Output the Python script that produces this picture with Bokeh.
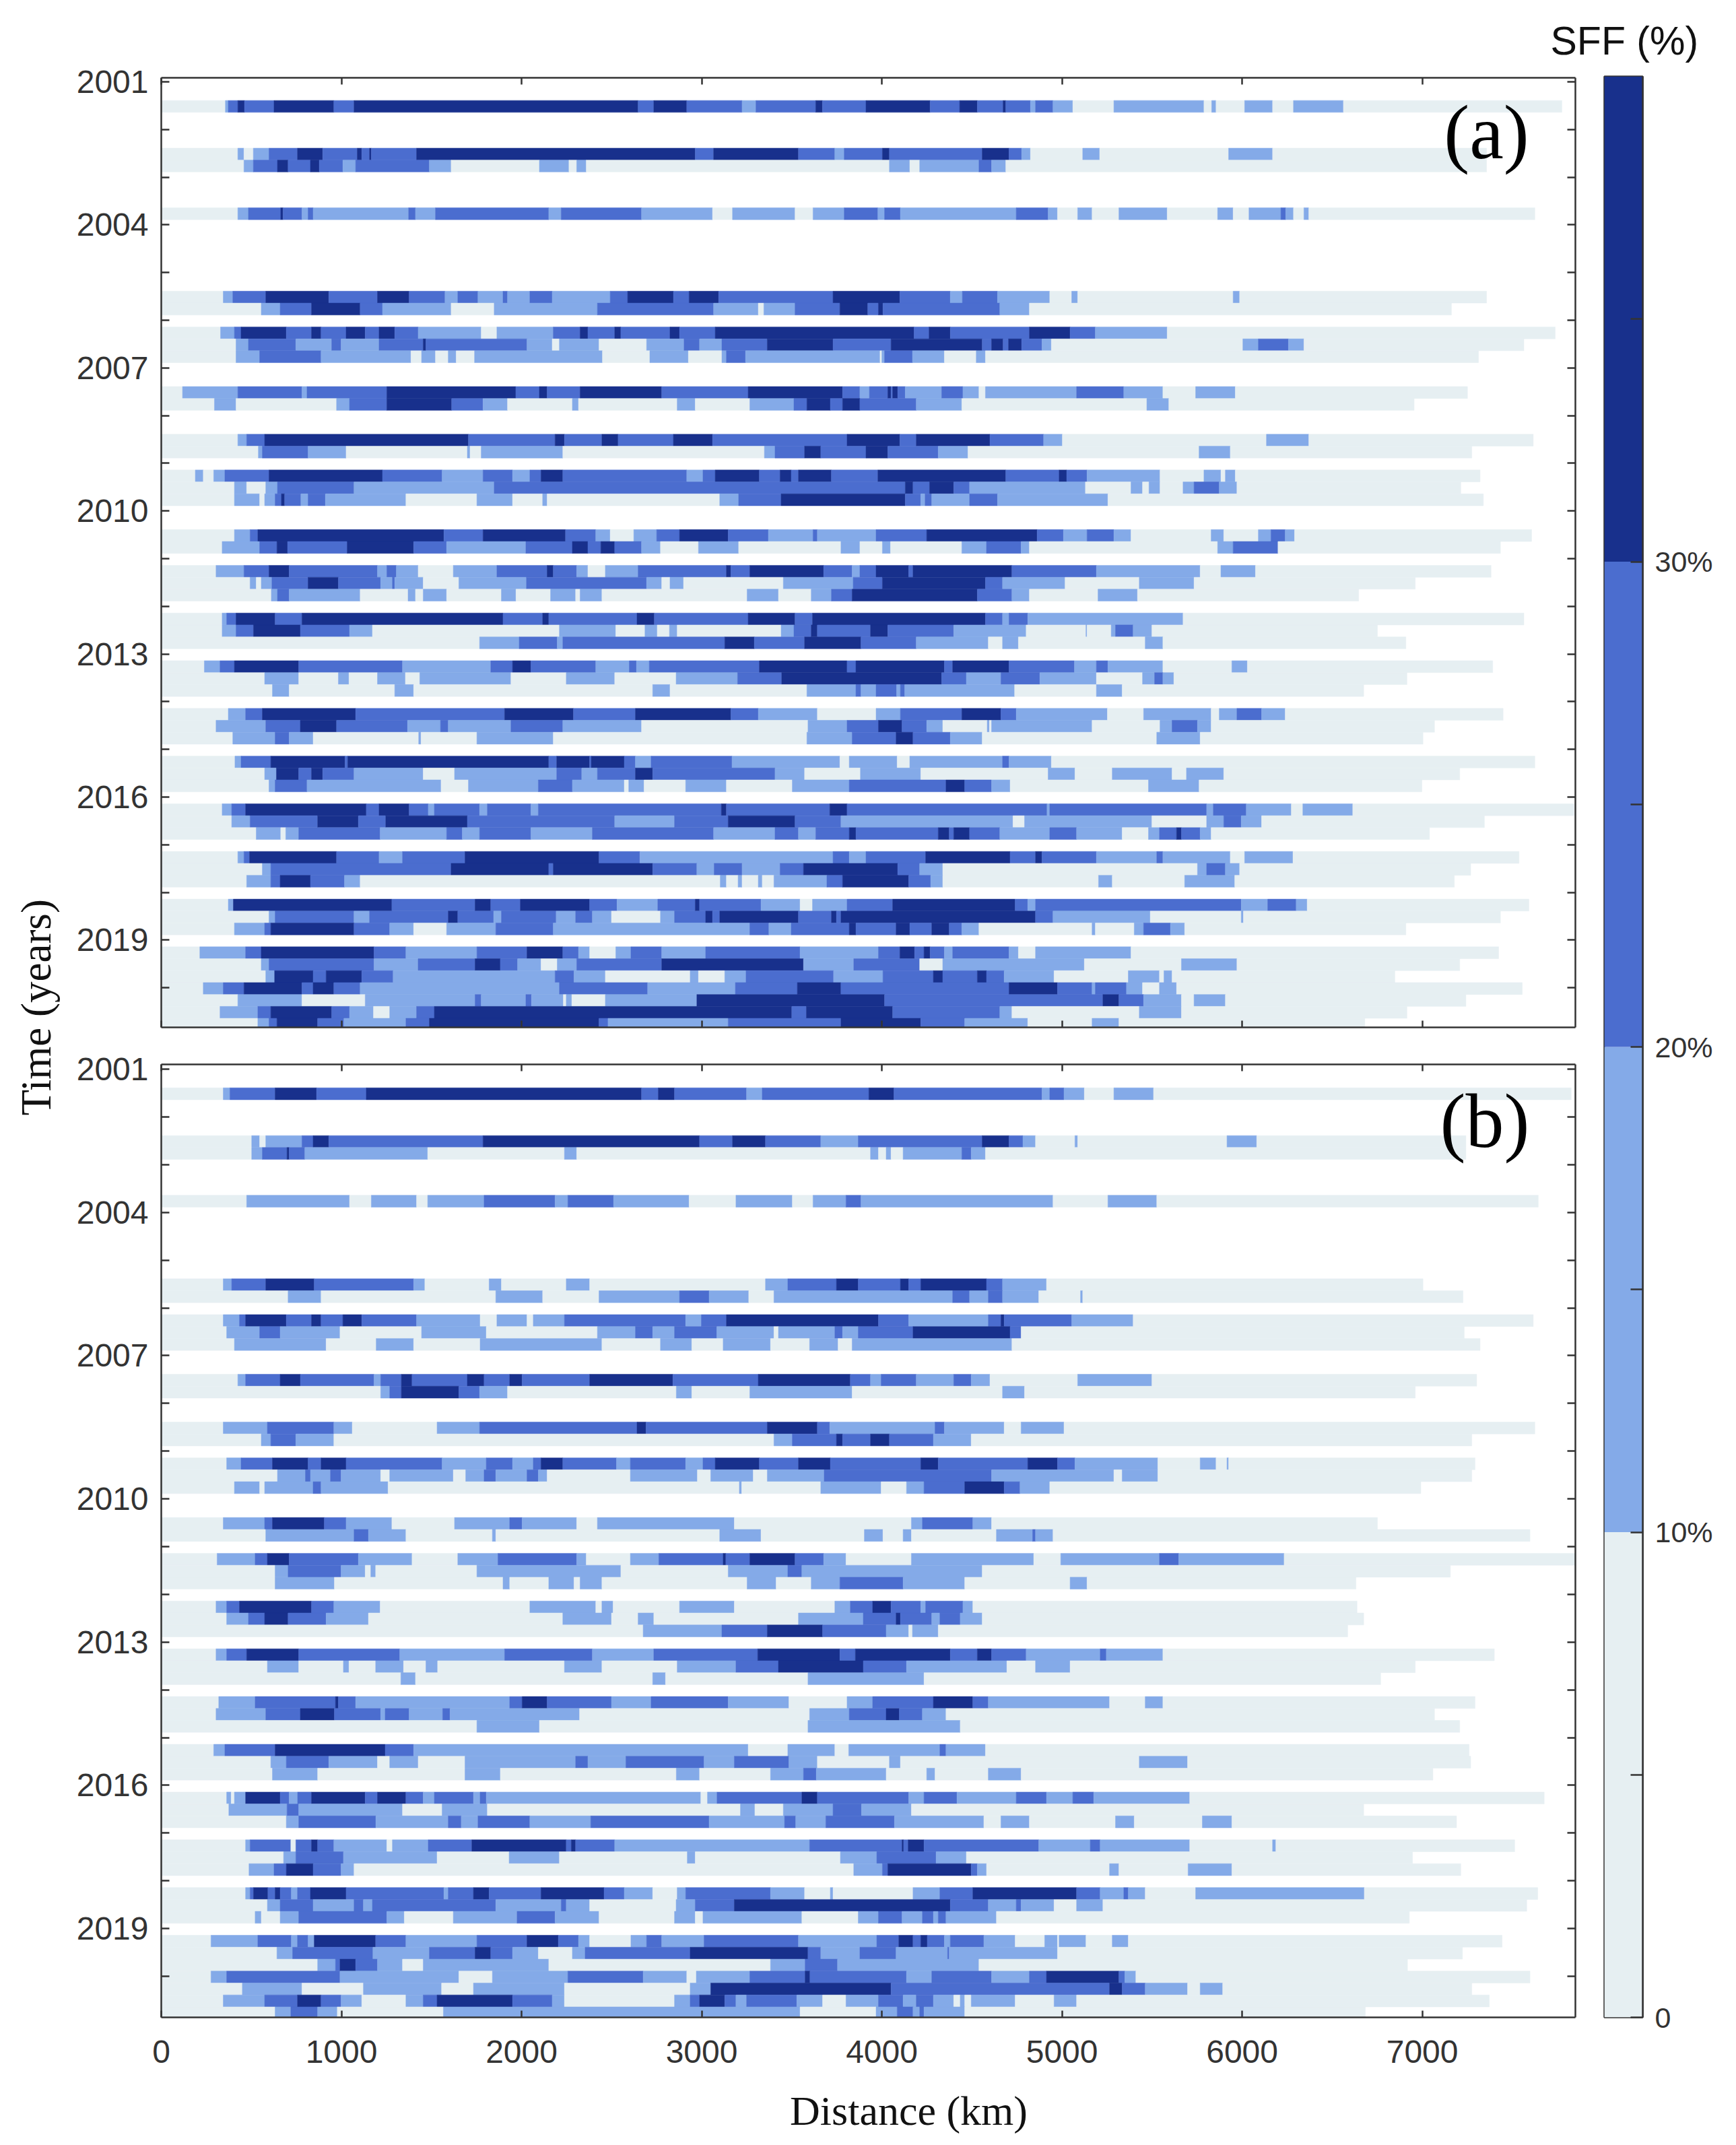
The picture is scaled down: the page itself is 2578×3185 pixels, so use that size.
from bokeh.embed import file_html
from bokeh.resources import INLINE
from bokeh.layouts import column, row
from bokeh.models import (ColumnDataSource, FixedTicker, Label, LinearAxis, LinearColorMapper, Range1d)
from bokeh.plotting import figure

# Rows are written as flat pairs: class (0:<10, 1:10-20, 2:20-30, 3:>30 % SFF), end distance km
row_k = [0, 4, 5, 9, 16, 17, 19, 20, 21, 24, 25, 28, 29, 31, 32, 33, 36, 37, 39, 40, 41, 43, 44, 45, 47, 48, 49,
         51, 52, 53, 55, 56, 57, 59, 60, 61, 63, 64, 65, 67, 68, 69, 71, 72, 73, 74, 75, 76, 77]
first_row_year = 2001.39
row_span_years = 0.25
class_sff = [5, 15, 25, 35]
year_ticks = list(range(2001, 2021))
year_labels = [2001, 2004, 2007, 2010, 2013, 2016, 2019]
dist_ticks = [0, 1000, 2000, 3000, 4000, 5000, 6000, 7000]
sff_ticks = [0, 5, 10, 15, 20, 25, 30, 35]
sff_labels = {0: "0", 10: "10%", 20: "20%", 30: "30%"}
palette = ["#e6eff2", "#84aae8", "#4b6dcf", "#18308c"]

a00 = [0,356,1,372,2,425,3,462,2,626,3,958,2,1070,3,2647,2,2734,3,2917,2,3224,1,3301,2,3633,3,3670,2,3912,3,4268,2,4432,3,4530,2,4673,3,4688,2,4825,1,4853,2,4950,1,5060,0,5288,1,5788,0,5831,1,5855,0,6014,1,6169,0,6285,1,6562,0,7775]
a04 = [0,425,1,459,0,511,1,598,2,756,3,896,2,1088,3,1113,2,1156,3,1166,2,1417,3,2964,2,3066,3,3537,2,3739,1,3791,2,4003,3,4042,2,4557,3,4706,2,4776,1,4825,0,5115,1,5209,0,5925,1,6169,0,7357]
a05 = [0,459,1,511,2,645,3,704,2,828,3,877,2,1008,1,1079,2,1488,1,1609,0,2099,1,2263,0,2306,1,2359,0,4042,1,4155,0,4210,1,4539,2,4609,1,4688,0,7357]
a09 = [0,425,1,484,2,663,3,676,2,781,1,815,2,843,1,1373,2,1411,1,1522,2,2151,1,2220,2,2666,1,3060,0,3171,1,3518,0,3618,1,3791,2,3978,1,4015,2,4103,1,4746,2,4923,1,4975,0,5087,1,5167,0,5316,1,5584,0,5864,1,5950,0,6038,1,6215,2,6242,1,6285,0,6343,1,6370,0,7625]
a16 = [0,344,1,397,2,580,3,930,2,1200,3,1376,2,1575,1,1646,2,1758,1,1897,2,1922,1,2046,2,2170,1,2492,2,2589,3,2843,2,2930,3,3094,2,3729,3,4100,2,4380,1,4447,2,4642,1,4932,0,5054,1,5087,0,5950,1,5986,0,7357]
a17 = [0,555,1,660,2,834,3,1104,2,1228,1,1609,0,1848,1,2421,2,3066,1,3314,0,3345,1,3518,2,3767,3,3922,2,3981,3,4006,2,4655,1,4819,0,7162]
a19 = [0,329,1,406,2,443,3,694,2,834,3,887,2,1026,3,1132,2,1209,3,1296,2,1426,1,1776,0,1863,1,2176,2,2325,3,2368,2,2517,3,2551,2,2824,3,2877,2,3075,3,4179,2,4262,3,4380,2,4819,3,5045,2,5185,1,5584,0,7738]
a20 = [0,415,1,484,2,747,1,946,2,998,1,1209,2,1454,3,1469,2,2030,1,2170,0,2210,1,2430,0,2694,1,2902,2,2988,1,3112,2,3364,3,3729,2,4051,3,4557,2,4609,3,4673,2,4703,3,4776,2,4889,1,4941,0,6004,1,6090,2,6257,1,6343,0,7564]
a21 = [0,415,1,546,2,887,1,1386,0,1445,1,1522,0,1593,1,1637,0,1739,1,2449,0,2712,1,2926,0,3112,1,3137,2,3243,1,3990,0,4000,1,4015,2,4170,1,4347,0,4524,1,4575,0,7312]
a24 = [0,118,1,425,2,781,1,809,2,1252,3,1968,2,2099,3,2142,2,2325,3,2778,2,3258,3,3782,2,3878,1,3931,2,4033,3,4051,2,4060,3,4088,2,4130,1,4332,2,4450,1,4539,0,4575,1,5081,2,5343,1,5560,0,5742,1,5962,0,7251]
a25 = [0,295,1,415,0,973,1,1045,2,1252,3,1612,2,1786,1,1922,0,2282,1,2316,0,2864,1,2964,0,3267,1,3512,2,3584,3,3714,2,3782,3,3878,2,4191,1,4444,0,5471,1,5593,0,6955]
a28 = [0,425,1,474,2,574,3,1705,2,2186,3,2238,2,2446,3,2536,2,2843,3,3060,2,3807,3,4100,2,4191,3,4600,2,4898,1,5002,0,6135,1,6370,0,7616]
a29 = [0,539,1,561,2,815,1,1026,0,1699,1,1714,0,1776,1,2229,0,3348,1,3407,2,3571,3,3661,2,3912,3,4033,2,4313,1,4478,0,5761,1,5934,0,7275]
a31 = [0,189,1,233,0,291,1,353,2,598,3,1228,2,1559,1,1786,2,1950,1,2046,2,2108,3,2229,2,2917,1,3007,2,3075,3,3320,2,3435,3,3497,2,3537,3,3720,2,3978,3,4688,2,4984,3,5026,2,5139,1,5544,0,5788,1,5882,0,5907,1,5962,0,7321]
a32 = [0,406,1,474,0,580,1,645,2,1070,1,1848,2,4130,3,4173,2,4265,3,4399,2,4487,1,5130,0,5383,1,5447,0,5483,1,5544,0,5672,1,5733,2,5873,1,5971,0,7214]
a33 = [0,406,1,546,0,574,1,632,2,667,3,685,2,775,1,815,2,911,1,1358,0,1752,1,1950,0,2117,1,2142,0,3100,1,3205,2,3441,3,4130,2,4216,1,4240,2,4277,1,4487,2,4642,1,5255,0,7339]
a36 = [0,406,1,493,2,536,3,1569,2,1786,3,2244,2,2412,1,2492,0,2623,1,2750,2,2877,3,3147,2,3370,1,3618,2,3642,1,3968,2,4249,3,4862,2,5008,1,5139,2,5288,1,5383,0,5828,1,5898,0,6090,1,6160,2,6239,1,6291,0,7607]
a37 = [0,338,1,546,2,642,3,701,2,1032,3,1401,2,1584,1,2024,2,2282,3,2368,2,2440,3,2517,2,2666,1,2771,0,2982,1,3205,0,3773,1,3878,0,4003,1,4048,0,4444,1,4581,2,4773,1,4819,0,5864,1,5950,2,6199,0,7434]
a39 = [0,304,1,459,2,598,3,710,2,1200,1,1252,2,1305,1,1426,0,1621,1,1863,2,2142,3,2176,2,2306,1,2368,0,2465,1,2647,2,3137,3,3162,2,3267,3,3677,2,3835,1,3878,2,3968,3,4149,2,4173,3,4722,2,5191,1,5767,0,5882,1,6074,0,7382]
a40 = [0,493,1,527,0,555,1,614,2,815,3,983,2,1218,1,1283,2,1296,1,1454,0,1652,1,2027,2,2694,1,2778,0,2824,1,2899,0,3453,1,3841,2,4003,3,4575,2,4670,1,5017,0,5429,1,5733,0,6961]
a41 = [0,611,1,645,2,710,1,1104,0,1370,1,1411,0,1454,1,1584,0,1888,1,1969,0,2161,1,2300,0,2325,1,2446,0,3252,1,3426,0,3608,1,3720,2,3835,3,4530,2,4722,1,4819,0,5200,1,5419,0,6647]
a43 = [0,338,1,363,2,415,3,632,2,781,3,1897,2,2117,3,2151,2,2641,3,2737,2,3258,3,3518,2,3615,3,4575,2,4670,1,4706,2,4810,1,5672,0,7564]
a44 = [0,338,1,415,2,512,3,772,2,1045,1,1172,0,2210,1,2523,0,2685,1,2753,0,2821,1,2864,0,3441,1,3512,2,3608,3,3642,2,3937,3,4033,2,4399,1,4801,0,5133,1,5139,0,5273,1,5297,2,5395,1,5499,0,6751]
a45 = [0,1767,1,1987,2,2198,1,2229,2,3128,3,3292,2,3571,3,3884,2,4191,1,4591,0,4670,1,4758,0,5462,1,5560,0,6909]
a47 = [0,239,1,326,2,406,3,763,2,1339,1,1829,2,1950,3,2052,2,2412,1,2598,2,2638,1,2709,2,3320,3,3807,2,3856,3,4347,2,4393,3,4706,2,5069,1,5191,2,5255,1,5560,0,5943,1,6029,0,7391]
a48 = [0,574,1,763,0,983,1,1042,0,1200,1,1355,0,1435,1,1941,0,2248,1,2517,0,2858,1,3199,2,3444,3,4332,2,4469,1,4661,2,4877,1,5191,0,5447,1,5514,2,5560,1,5621,0,6915]
a49 = [0,617,1,710,0,1296,1,1401,0,2728,1,2824,0,3584,1,3856,2,3884,1,3968,2,4082,1,4103,2,4127,1,4737,0,5191,1,5334,0,6675]
a51 = [0,372,1,468,2,561,3,1079,2,1906,3,2288,2,2632,3,3162,2,3314,1,3642,0,3968,1,4103,2,4444,3,4661,2,4746,1,5252,0,5453,1,5828,0,5873,1,5971,2,6108,1,6239,0,7449]
a52 = [0,304,1,580,2,772,3,973,2,1367,1,1550,2,1593,1,1941,2,2229,1,2666,0,3590,1,3807,2,3981,3,4112,2,4249,1,4338,0,4585,1,4597,0,4609,1,5167,0,5544,1,5611,2,5752,1,5828,0,7068]
a53 = [0,397,1,632,2,710,1,843,0,1429,1,1442,0,1752,1,2176,0,3584,1,3835,2,4079,3,4173,2,4380,1,4557,0,5526,1,5767,0,7004]
a55 = [0,409,1,443,2,608,3,1020,2,1035,3,2151,2,2195,3,2378,2,2387,3,2570,2,2632,1,2719,2,3168,1,3767,0,3819,1,4085,0,4155,1,4670,2,4706,1,4941,0,7625]
a56 = [0,574,1,639,3,763,2,834,3,896,2,1070,1,1454,0,1628,1,2195,2,2334,1,2421,2,2632,3,2728,2,3407,1,3571,0,3881,1,4216,0,4923,1,5072,0,5279,1,5611,0,5691,1,5898,0,7208]
a57 = [0,598,1,632,2,809,1,1553,0,1705,1,2093,2,2282,1,2570,0,2595,1,2680,0,2911,1,3137,0,3503,1,3819,2,4356,3,4460,2,4609,1,4712,0,5480,1,5761,0,6998]
a59 = [0,338,1,391,2,468,3,1138,2,1209,3,1376,2,1482,1,1516,2,1767,1,1810,2,2052,1,2093,2,3109,3,3137,2,3711,3,3807,2,4917,1,4932,2,5803,1,5840,2,6023,1,6273,0,6337,1,6614,0,7842]
a60 = [0,391,1,493,2,868,3,1094,2,1246,3,1699,2,2517,1,2849,2,3147,3,3518,2,3773,1,4728,0,4792,1,5499,0,5803,1,5898,2,5995,1,6108,0,7345]
a61 = [0,527,1,663,0,691,1,763,2,1215,1,1584,2,1671,1,1767,2,2052,1,2393,2,3066,1,3407,2,3537,1,3633,2,3819,3,3856,2,4313,3,4374,2,4399,3,4487,2,4655,1,4932,2,5081,1,5334,0,5480,1,5541,2,5636,3,5663,2,5767,1,5828,0,7040]
a63 = [0,425,1,459,2,490,3,973,2,1209,1,1339,2,1686,3,2430,2,2657,1,3729,2,3819,1,3912,2,4243,3,4712,2,4853,3,4889,2,5191,1,5526,2,5560,1,5934,0,6014,1,6282,0,7537]
a64 = [0,561,1,608,2,1609,3,2151,2,2176,3,2728,2,2973,1,3069,2,3224,1,3435,2,3565,3,4088,2,4210,1,4338,0,5752,1,5803,2,5907,1,5986,0,7269]
a65 = [0,474,1,608,2,660,3,828,2,1017,1,1104,0,3103,1,3137,0,3202,1,3224,0,3314,1,3336,0,3401,1,3695,2,3782,3,4149,2,4271,1,4338,0,5203,1,5279,0,5681,1,5959,0,7178]
a67 = [0,372,1,400,3,1280,2,1742,3,1829,2,1993,3,2378,2,2530,1,2756,2,2964,3,2988,2,3329,1,3546,0,3615,1,3807,2,4060,3,4740,2,4810,1,4853,2,5995,1,6142,2,6300,1,6361,0,7592]
a68 = [0,598,1,632,2,1070,1,1156,2,1593,3,1646,2,1845,1,1888,2,2192,1,2300,2,2393,1,2499,0,2771,1,2849,2,3022,3,3060,2,3100,3,3537,2,3720,3,3748,2,3773,3,4853,2,4950,1,5490,0,5995,1,6007,0,7434]
a69 = [0,406,1,574,2,608,3,1070,2,1268,1,1401,0,1584,1,1857,2,2176,1,3267,2,3373,1,3497,2,3819,3,3856,2,4079,3,4155,2,4277,3,4374,2,4444,1,4539,0,5167,1,5185,0,5401,1,5453,2,5602,1,5681,0,6909]
a71 = [0,214,1,468,2,555,3,1181,2,1358,1,1752,2,2030,3,2229,2,2316,1,2378,0,2523,1,2607,2,2778,1,3022,2,3546,1,3981,2,4100,3,4182,2,4234,3,4268,2,4347,1,4393,2,4706,1,4758,0,4853,1,5383,0,7424]
a72 = [0,555,1,598,2,1181,1,1426,2,1742,3,1882,2,1978,1,2108,0,2198,1,2306,2,2778,3,3565,1,3844,2,4210,0,4338,1,5124,0,5663,1,5971,0,7208]
a73 = [0,580,1,629,3,843,2,915,3,1113,2,1287,1,2186,2,2291,1,2465,0,2936,1,2982,0,3128,1,3246,2,3732,1,4006,2,4286,3,4338,2,4530,3,4581,2,4679,1,4956,0,5368,1,5541,0,5566,1,5611,0,6848]
a74 = [0,233,1,344,2,459,3,781,2,843,3,958,2,1104,1,2210,2,2700,1,3187,2,3531,3,3773,2,4706,3,4975,2,5167,1,5185,2,5358,1,5447,0,5541,1,5636,0,7555]
a75 = [0,425,1,781,0,1132,1,1742,2,1776,1,2024,2,2055,1,2232,0,2248,1,2279,0,2465,1,2973,3,4015,2,5227,3,5316,2,5453,1,5663,0,5733,1,5907,0,7242]
a76 = [0,326,1,536,2,608,3,946,2,1045,1,1178,0,1268,1,1417,2,1516,3,3500,2,3581,3,4060,2,4655,1,4722,0,5429,1,5663,0,6915]
a77 = [0,536,1,598,2,642,3,868,2,1014,1,1358,2,1488,3,2430,2,2480,1,3147,2,3773,3,4216,2,4460,1,4810,0,5167,1,5316,0,6681]

b00 = [0,344,1,381,2,632,3,862,2,1138,3,2666,2,2759,3,2849,2,3249,1,3336,2,3928,3,4067,2,4889,1,4932,2,5011,1,5124,0,5288,1,5508,0,7827]
b04 = [0,502,1,546,0,580,1,781,2,843,3,930,2,1786,3,2988,2,3171,3,3354,2,3661,1,3869,2,4557,3,4706,2,4783,1,4853,0,5072,1,5087,0,5916,1,6081,0,7242]
b05 = [0,502,1,561,2,698,3,710,2,797,1,1479,0,2238,1,2306,0,3937,1,3981,0,4024,1,4051,0,4118,1,4444,2,4496,1,4575,0,7242]
b09 = [0,474,1,1045,0,1166,1,1417,0,1479,1,1792,2,2186,1,2257,2,2511,1,2930,0,3190,1,3503,0,3618,1,3801,2,3884,1,4950,0,5255,1,5526,0,7644]
b16 = [0,344,1,391,2,580,3,849,2,1401,1,1463,0,1820,1,1888,0,2248,1,2378,0,3354,1,3478,2,3748,3,3869,2,4103,3,4149,2,4216,3,4581,2,4670,1,4914,0,7004]
b17 = [0,704,1,887,0,1857,1,2117,0,2430,1,2877,2,3041,1,3261,0,3401,1,4393,2,4487,1,4591,2,4670,1,4871,0,5103,1,5115,0,7226]
b19 = [0,344,1,434,2,468,3,694,2,834,3,887,2,1008,3,1113,2,1417,1,1770,0,1863,1,2030,0,2065,1,2238,2,2911,1,2998,2,3137,3,3981,2,4149,1,4591,2,4661,3,4679,2,5054,1,5395,0,7616]
b20 = [0,363,1,546,2,660,1,992,0,1445,1,1804,0,2421,1,2632,2,2728,1,2849,2,3084,1,3401,0,3426,1,3739,2,3782,1,3869,2,4173,3,4712,2,4773,0,7233]
b21 = [0,406,1,915,0,1193,1,1401,0,1770,1,2446,0,2771,1,2945,0,3119,1,3382,0,3599,1,3757,0,3835,1,4722,0,7321]
b24 = [0,425,1,468,2,660,3,772,2,1181,1,1218,2,1333,3,1392,2,1699,3,1792,2,1934,3,2003,2,2378,3,2840,2,3314,3,3825,2,3937,1,3996,2,4191,1,4399,2,4496,1,4600,0,5087,1,5499,0,7302]
b25 = [0,1218,1,1268,2,1333,3,1652,2,1767,1,1922,0,2859,1,2945,0,3267,1,3835,0,4670,1,4792,0,6961]
b28 = [0,344,1,589,2,958,1,1060,0,1531,1,1767,2,2641,3,2691,2,3364,3,3642,2,3711,1,4295,2,4347,1,4679,0,4773,1,5011,0,7625]
b29 = [0,555,1,608,2,747,1,958,0,3401,1,3503,2,3748,3,3782,2,3937,3,4042,2,4286,1,4496,0,7275]
b31 = [0,363,1,443,2,617,3,815,2,887,3,1026,2,1559,1,1804,2,1950,1,2065,2,2108,3,2229,2,2527,1,2604,2,2911,1,3007,2,3075,3,3320,2,3537,3,3714,2,4216,3,4313,2,4810,3,4975,2,5072,1,5532,0,5767,1,5855,0,5916,1,5925,0,7293]
b32 = [0,645,1,800,2,828,1,939,2,998,1,1218,0,1268,1,1621,0,1690,1,1792,2,1857,1,2030,2,2093,1,2142,0,2604,1,2976,0,3050,1,3286,0,3364,1,3680,2,4609,1,5288,0,5334,1,5532,0,7275]
b33 = [0,406,1,546,0,574,1,843,2,887,1,1259,0,3209,1,3222,0,3661,1,3996,0,4137,1,4234,2,4460,3,4679,2,4767,1,4932,0,6992]
b36 = [0,344,1,574,2,617,3,905,2,1026,1,1280,0,1628,1,1934,2,2003,1,2306,0,2421,1,3181,0,4164,1,4225,2,4505,1,4609,0,6751]
b37 = [0,580,1,1070,2,1150,1,1358,0,1838,1,1857,0,3100,1,3329,0,3903,1,4006,0,4118,1,4164,0,4636,1,4837,2,4853,1,4950,0,7598]
b39 = [0,310,1,521,2,589,3,710,2,1094,1,1392,0,1646,1,1869,2,2306,1,2359,0,2604,1,2762,2,3119,3,3134,2,3267,3,3518,2,3677,1,3801,0,4164,1,4843,0,4993,1,5541,2,5648,1,6233,0,7850]
b40 = [0,632,1,704,2,998,1,1132,0,1163,1,1190,0,1752,1,2551,0,3147,1,3478,2,3556,1,4557,0,7156]
b41 = [0,632,1,961,0,1897,1,1934,0,2151,1,2291,0,2325,1,2446,0,3252,1,3413,0,3608,1,3767,2,4118,1,4460,0,5045,1,5139,0,6632]
b43 = [0,304,1,363,2,434,3,834,2,958,1,1215,0,2046,1,2412,0,2446,1,2508,0,2877,1,3181,0,3739,1,3825,2,3949,3,4051,2,4216,1,4243,2,4450,1,4505,0,6638]
b44 = [0,363,1,484,2,574,3,704,2,915,1,1150,0,2229,1,2499,0,2647,1,2734,0,3537,1,3897,2,4079,3,4103,2,4277,1,4322,2,4435,1,4557,0,6675]
b45 = [0,2675,1,3112,2,3364,3,3671,2,4024,1,4149,0,4170,1,4313,0,6586]
b47 = [0,304,1,363,2,474,3,763,2,1324,1,1906,2,2393,1,2734,2,3311,3,3767,2,3853,3,4380,2,4530,3,4609,2,4801,1,5212,2,5246,1,5560,0,7400]
b48 = [0,589,1,763,0,1011,1,1042,0,1190,1,1345,0,1469,1,1534,0,2238,1,2446,0,2864,1,3190,2,3426,3,3897,2,4137,1,4694,0,4853,1,5045,0,6961]
b49 = [0,1330,1,1411,0,2728,1,2799,0,3590,1,4234,0,6769]
b51 = [0,319,1,521,2,967,3,983,2,1079,1,1934,2,2003,3,2142,2,2499,1,2719,2,3147,1,3484,0,3807,1,3949,2,4286,3,4505,2,4591,1,5264,0,5462,1,5560,0,7293]
b52 = [0,304,1,580,2,772,3,961,2,1218,1,1243,2,1376,1,1562,2,1603,1,2322,0,3599,1,3819,2,4024,3,4097,2,4225,1,4356,0,7068]
b53 = [0,1752,1,2099,0,3590,1,4435,0,7208]
b55 = [0,291,1,353,2,632,3,1243,2,1401,1,3258,0,3478,1,3739,0,3816,1,4322,2,4356,1,4575,0,7260]
b56 = [0,608,1,694,2,930,1,1200,0,1268,1,1426,0,1686,1,2300,2,2368,1,2579,2,3013,1,3181,2,3484,1,3642,0,4042,1,4103,0,5429,1,5697,0,7269]
b57 = [0,617,1,868,0,1686,1,1882,0,2859,1,2988,0,3382,1,3565,2,3636,1,4024,0,4249,1,4295,0,4591,1,4773,0,7059]
b59 = [0,363,1,388,0,406,1,468,3,660,2,710,1,757,2,834,3,1132,2,1200,3,1358,2,1454,1,1516,2,1733,1,1770,2,1804,1,2995,0,3032,1,3085,2,3556,3,3642,2,4149,1,4234,2,4417,1,4746,2,4914,1,5060,2,5176,1,5709,0,7677]
b60 = [0,375,1,698,2,763,1,1339,0,1559,1,1810,0,3215,1,3295,0,3453,1,3729,2,3887,1,4164,0,6675]
b61 = [0,694,1,763,2,1191,1,1593,2,1665,1,1758,2,2046,1,2384,2,3041,1,3460,2,3522,1,3689,2,4070,1,4566,0,4661,1,4819,0,5297,1,5401,0,5779,1,5943,0,7190]
b63 = [0,468,1,493,2,719,0,747,2,834,3,868,2,958,1,1252,0,1283,1,1482,2,1724,3,2248,2,2276,3,2300,2,2517,1,3599,2,4112,3,4121,2,4146,3,4234,2,4871,1,5157,2,5212,1,5709,0,6169,1,6187,0,7513]
b64 = [0,679,1,747,2,1011,1,1531,0,1931,1,2210,0,2920,1,2964,0,3770,1,3972,2,4301,1,4469,0,6946]
b65 = [0,487,1,626,2,694,3,843,2,998,1,1070,0,3844,1,4003,2,4033,3,4496,2,4530,1,4581,0,5264,1,5316,0,5700,1,5943,0,7214]
b67 = [0,468,1,493,2,512,3,592,2,632,3,660,2,722,1,756,2,828,3,1026,2,1569,1,1593,2,1733,3,1820,2,2108,3,2458,2,2570,1,2728,0,2864,1,2911,2,3382,1,3571,0,3714,1,3729,0,4173,1,4322,2,4505,3,5081,2,5212,1,5343,2,5368,1,5462,0,5742,1,6678,0,7641]
b68 = [0,589,1,660,2,843,1,1070,2,1122,1,1172,2,1857,1,2220,2,2248,1,2378,0,2858,1,2964,2,3181,3,4380,2,4591,1,4746,2,4773,1,4956,0,5081,1,5227,0,7580]
b69 = [0,521,1,555,0,660,1,763,2,1252,1,1349,0,1621,1,1975,2,2186,1,2430,0,2849,1,2964,0,3007,1,3556,0,3869,1,3981,2,4112,1,4225,2,4286,1,4313,2,4356,1,4636,0,6928]
b71 = [0,276,1,536,2,722,1,756,2,815,1,849,3,1190,2,1358,1,1752,2,2030,3,2204,2,2316,1,2378,0,2607,1,2694,2,2778,1,3013,2,3537,1,3972,2,4094,3,4173,2,4216,3,4252,2,4347,1,4380,2,4566,1,4740,0,4904,1,4975,0,4984,1,5133,0,5279,1,5368,0,7443]
b72 = [0,642,1,729,2,1175,1,1488,2,1742,3,1829,2,1950,1,2093,0,2282,1,2353,2,2936,3,3590,2,3661,1,3878,2,4079,1,4365,2,4374,1,4975,0,7223]
b73 = [0,868,1,967,2,992,3,1079,2,1200,1,1339,0,1454,1,2151,0,3382,1,3574,2,3754,1,4539,0,6918]
b74 = [0,276,1,363,2,992,1,1652,0,1838,1,2257,2,2675,1,2917,0,2970,1,3267,2,3574,3,3601,2,4137,1,4277,2,4609,1,4819,2,4914,3,5316,2,5349,1,5410,0,7598]
b75 = [0,450,1,781,0,1122,1,1556,0,1733,1,2238,0,2936,1,3050,3,4051,2,5264,3,5334,2,5462,1,5697,0,5767,1,5892,0,7275]
b76 = [0,344,1,574,2,756,3,887,2,998,1,1113,0,1358,1,1454,2,1531,3,1950,2,2170,1,2238,0,2849,1,2936,2,2988,3,3128,2,3190,1,3249,2,3528,1,3671,0,3801,1,3981,2,4118,1,4191,2,4286,1,4399,0,4435,1,4460,0,4496,1,4740,0,4956,1,5081,0,7372]
b77 = [0,632,1,719,2,868,1,977,0,1566,1,3546,0,3968,1,4085,2,4173,1,4210,2,4234,1,4460,0,6684]

rows_a = [a00,a04,a05,a09,a16,a17,a19,a20,a21,a24,a25,a28,a29,a31,a32,a33,a36,a37,a39,a40,a41,a43,a44,a45,a47,a48,a49,a51,a52,a53,a55,a56,a57,a59,a60,a61,a63,a64,a65,a67,a68,a69,a71,a72,a73,a74,a75,a76,a77]
rows_b = [b00,b04,b05,b09,b16,b17,b19,b20,b21,b24,b25,b28,b29,b31,b32,b33,b36,b37,b39,b40,b41,b43,b44,b45,b47,b48,b49,b51,b52,b53,b55,b56,b57,b59,b60,b61,b63,b64,b65,b67,b68,b69,b71,b72,b73,b74,b75,b76,b77]

mapper = LinearColorMapper(palette=palette, low=0, high=40)
AXC = "#333333"
SANS = "Liberation Sans"
SERIF = "Liberation Serif"


def cells(rows):
    d = dict(left=[], right=[], top=[], bottom=[], sff=[])
    for k, r in zip(row_k, rows):
        t = first_row_year + row_span_years * k
        prev = 0
        for i in range(0, len(r), 2):
            d["left"].append(prev)
            d["right"].append(r[i + 1])
            d["top"].append(t)
            d["bottom"].append(t + row_span_years)
            d["sff"].append(class_sff[r[i]])
            prev = r[i + 1]
    return ColumnDataSource(d)


def blank(ax):
    ax.major_label_text_font_size = "1px"
    ax.major_label_text_color = None
    ax.major_label_standoff = 0


def panel(rows, y0, y1, h, b_top, b_bottom, show_x, tag, tag_x, tag_y):
    p = figure(width=139 + 2100 + 10, height=h + b_top + b_bottom, output_backend="svg", toolbar_location=None,
               x_range=Range1d(0, 7850), y_range=Range1d(y1, y0), x_axis_location="below",
               min_border_left=139, min_border_right=10, min_border_top=b_top, min_border_bottom=b_bottom)
    p.grid.visible = False
    p.outline_line_color = None
    fill = {"field": "sff", "transform": mapper}
    p.quad(left="left", right="right", top="top", bottom="bottom", source=cells(rows),
           fill_color=fill, line_color=fill, line_width=0.5)
    p.add_layout(LinearAxis(), "above")
    p.add_layout(LinearAxis(), "right")
    for ax in p.axis:
        ax.axis_line_color = AXC
        ax.axis_line_width = 2.5
        ax.major_tick_line_color = AXC
        ax.major_tick_line_width = 2.5
        ax.major_tick_out = 0
        ax.minor_tick_line_color = None
        ax.major_label_text_font = SANS
        ax.major_label_text_font_size = "48px"
        ax.major_label_text_color = AXC
    for ax in p.xaxis:
        ax.ticker = FixedTicker(ticks=dist_ticks)
        ax.major_tick_in = 10
    for ax in p.yaxis:
        ax.ticker = FixedTicker(ticks=year_ticks)
        ax.major_tick_in = 12
    p.yaxis[0].major_label_overrides = {y: (str(y) if y in year_labels else "") for y in year_ticks}
    p.yaxis[0].major_label_standoff = 19
    blank(p.yaxis[1])
    blank(p.above[0])
    if show_x:
        p.below[0].major_label_standoff = 34
    else:
        blank(p.below[0])
    p.add_layout(Label(x=tag_x, y=tag_y, text=tag, text_font=SERIF, text_font_size="114px", text_color="#000000",
                       text_baseline="alphabetic"))
    return p


pa = panel(rows_a, 2000.915, 2020.83, 1410, 21, 15, False, "(a)", 7120, 2002.06)
pb = panel(rows_b, 2000.90, 2020.86, 1415, 40, 105, True, "(b)", 7099, 2002.09)

# colour bar
bar_low = [0, 10, 20, 30]
bar_high = [10, 20, 30, 40]
pc = figure(width=220, height=19 + 2882 + 40, output_backend="svg", toolbar_location=None,
            x_range=Range1d(0, 1), y_range=Range1d(0, 40), x_axis_location=None, y_axis_location="right",
            min_border_left=33, min_border_right=130, min_border_top=19, min_border_bottom=40)
pc.grid.visible = False
pc.quad(left=0, right=1, bottom="low", top="high",
        source=ColumnDataSource(dict(low=bar_low, high=bar_high, sff=class_sff)),
        fill_color={"field": "sff", "transform": mapper}, line_color=None)
pc.outline_line_color = AXC
pc.outline_line_width = 2.5
ay = pc.yaxis[0]
ay.ticker = FixedTicker(ticks=sff_ticks)
ay.major_label_overrides = {t: sff_labels.get(t, "") for t in sff_ticks}
ay.axis_line_color = AXC
ay.axis_line_width = 2.5
ay.major_tick_line_color = AXC
ay.major_tick_line_width = 2.5
ay.major_tick_in = 18
ay.major_tick_out = 0
ay.minor_tick_line_color = None
ay.major_label_standoff = 18
ay.major_label_text_font = SANS
ay.major_label_text_font_size = "43px"
ay.major_label_text_color = AXC

# strips carrying texts that do not belong to one panel's box
header = figure(width=2570, height=94, output_backend="svg", toolbar_location=None, x_range=Range1d(0, 2570),
                y_range=Range1d(94, 0), x_axis_location=None, y_axis_location=None,
                min_border=0, outline_line_color=None)
header.grid.visible = False
header.add_layout(Label(x=2302, y=60, text="SFF (%)", text_font=SANS, text_font_size="59px", text_color="#111111",
                        text_baseline="middle"))

side = figure(width=100, height=3006, output_backend="svg", toolbar_location=None, x_range=Range1d(0, 100),
              y_range=Range1d(3006, 0), x_axis_location=None, y_axis_location=None,
              min_border=0, outline_line_color=None)
side.grid.visible = False
side.add_layout(Label(x=53, y=1410, text="Time (years)", angle=90, angle_units="deg", text_align="center",
                      text_baseline="middle", text_font=SERIF, text_font_size="63px", text_color="#111111"))

footer = figure(width=2570, height=70, output_backend="svg", toolbar_location=None, x_range=Range1d(0, 2570),
                y_range=Range1d(70, 0), x_axis_location=None, y_axis_location=None,
                min_border=0, outline_line_color=None)
footer.grid.visible = False
footer.add_layout(Label(x=1349, y=33, text="Distance (km)", text_align="center", text_baseline="alphabetic",
                        text_font=SERIF, text_font_size="62px", text_color="#111111"))

page = column(header, row(side, column(pa, pb), pc), footer, spacing=0)
open("out.html", "w").write(file_html(page, INLINE))
